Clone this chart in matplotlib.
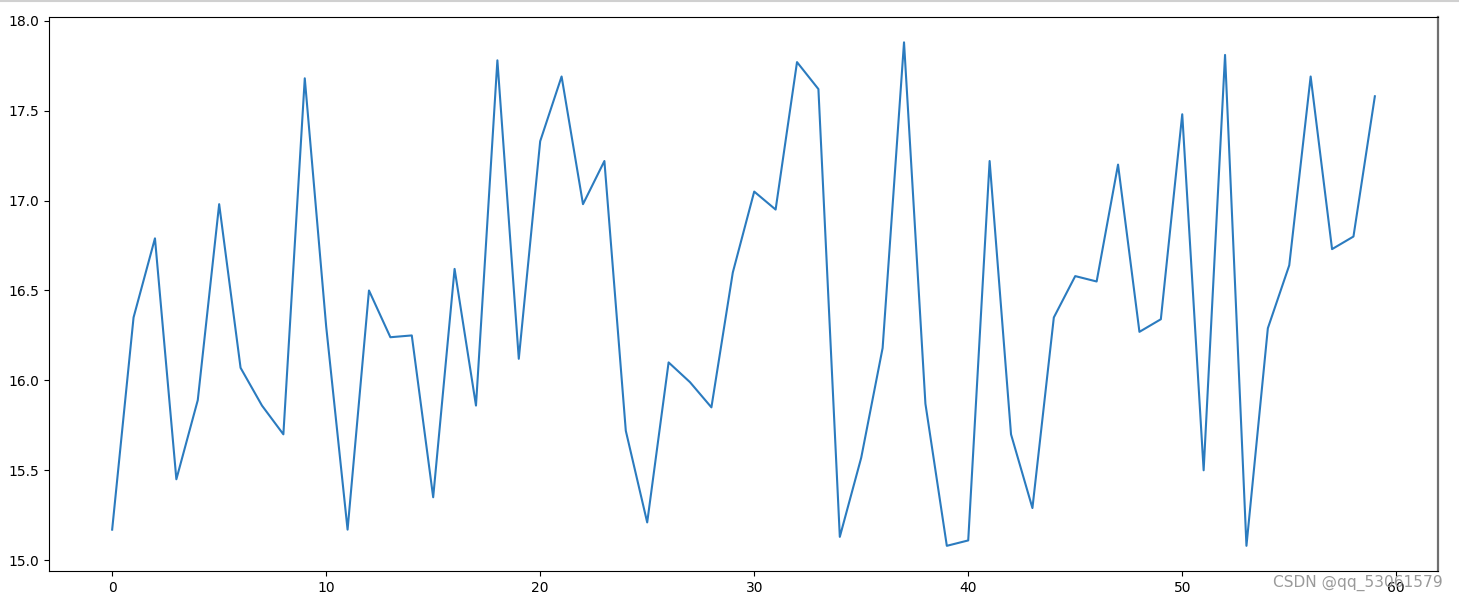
import numpy as np
import matplotlib.pyplot as plt
from matplotlib.lines import Line2D

# values
x = list(range(60))
y = [15.17, 16.35, 16.79, 15.45, 15.89, 16.98, 16.07, 15.86, 15.70, 17.68,
     16.30, 15.17, 16.50, 16.24, 16.25, 15.35, 16.62, 15.86, 17.78, 16.12,
     17.33, 17.69, 16.98, 17.22, 15.72, 15.21, 16.10, 15.99, 15.85, 16.60,
     17.05, 16.95, 17.77, 17.62, 15.13, 15.57, 16.18, 17.88, 15.87, 15.08,
     15.11, 17.22, 15.70, 15.29, 16.35, 16.58, 16.55, 17.20, 16.27, 16.34,
     17.48, 15.50, 17.81, 15.08, 16.29, 16.64, 17.69, 16.73, 16.80, 17.58]

fig = plt.figure(figsize=(14.59, 6.02), dpi=100)
ax = fig.add_axes([0.0336, 0.0515, 0.952, 0.920])
ax.plot(x, y, color='#2b7bbf', linewidth=1.5)
ax.spines['right'].set_color('#707070')
ax.spines['right'].set_linewidth(1.6)

# screenshot top rule and watermark
fig.add_artist(Line2D([0, 1], [0.9985, 0.9985], color='#d0d0d0', linewidth=1.5,
                      transform=fig.transFigure))
fig.text(0.989, 0.0316, 'CSDN @qq_53061579', ha='right', va='center',
         fontsize=11.1, color='#9a9a9a')

fig.savefig('out.png', dpi=100)
